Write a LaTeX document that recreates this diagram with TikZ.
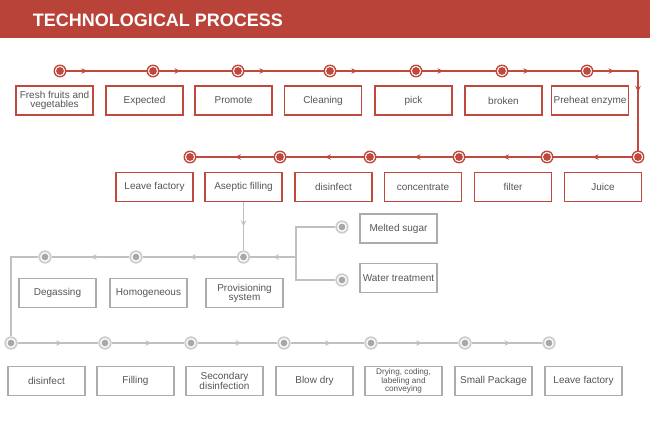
\documentclass[tikz,border=0pt]{standalone}
\usepackage{fontspec}
\setmainfont{Liberation Sans}
\usetikzlibrary{decorations.markings,arrows.meta}
\definecolor{hdred}{RGB}{185,67,56}
\definecolor{lnred}{RGB}{192,73,62}
\definecolor{lngray}{RGB}{192,192,192}
\definecolor{bxgray}{RGB}{172,172,172}
\definecolor{txtgray}{RGB}{85,85,85}
\definecolor{dotgray}{RGB}{168,168,168}
\definecolor{ringgray}{RGB}{205,205,205}
\begin{document}
\begin{tikzpicture}[x=1bp,y=-1bp,
  redbox/.style={draw=lnred,line width=1.6bp,minimum width=77bp,minimum height=29bp,inner sep=1bp,text=txtgray,font=\fontsize{10bp}{9bp}\selectfont,align=center},
  graybox/.style={redbox,draw=bxgray,line width=1.4bp},
  smalltext/.style={font=\fontsize{8.2bp}{8.2bp}\selectfont},
  reddot/.style={circle,draw=lnred,line width=1.4bp,fill=white,minimum size=11.5bp,inner sep=0pt,
    path picture={\fill[lnred] (path picture bounding box.center) circle (3.9bp);}},
  graydot/.style={circle,draw=ringgray,line width=1.8bp,fill=white,minimum size=11.5bp,inner sep=0pt,
    path picture={\fill[dotgray] (path picture bounding box.center) circle (3.4bp);}},
  redline/.style={lnred,line width=1.3bp},
  grayline/.style={lngray,line width=1.3bp},
  arrat/.style={postaction={decorate},decoration={markings,mark=at position #1 with {\arrow{Stealth[length=6bp,width=5.5bp]}}}},
]
\useasboundingbox (0,0) rectangle (650,432);
% header
\fill[hdred] (0,0) rectangle (650,38);
\node[text=white,font=\fontsize{18bp}{18bp}\selectfont\bfseries] (title) at (158,20) {TECHNOLOGICAL PROCESS};

% row 1 boxes
\node[redbox] (b11) at (54.5,100.5) {Fresh fruits and\\vegetables};
\node[redbox] (b12) at (144.5,100.5) {Expected};
\node[redbox] (b13) at (233.5,100.5) {Promote};
\node[redbox] (b14) at (323,100.5) {Cleaning};
\node[redbox] (b15) at (413.5,100.5) {pick};
\node[redbox] (b16) at (503.5,100.5) {broken};
\node[redbox] (b17) at (590,100.5) {Preheat enzyme};
% row 1 dots
\node[reddot] (d11) at (60,71) {};
\node[reddot] (d12) at (153,71) {};
\node[reddot] (d13) at (238,71) {};
\node[reddot] (d14) at (330,71) {};
\node[reddot] (d15) at (416,71) {};
\node[reddot] (d16) at (502,71) {};
\node[reddot] (d17) at (587,71) {};
\coordinate (rc) at (638,71);

% row 2 boxes
\node[redbox] (b21) at (603,187) {Juice};
\node[redbox] (b22) at (513,187) {filter};
\node[redbox] (b23) at (423,187) {concentrate};
\node[redbox] (b24) at (333.5,187) {disinfect};
\node[redbox] (b25) at (243.5,187) {Aseptic filling};
\node[redbox] (b26) at (154.5,187) {Leave factory};
% row 2 dots
\node[reddot] (d21) at (638,157) {};
\node[reddot] (d22) at (547,157) {};
\node[reddot] (d23) at (459,157) {};
\node[reddot] (d24) at (370,157) {};
\node[reddot] (d25) at (280,157) {};
\node[reddot] (d26) at (190,157) {};

% branch boxes
\node[graybox] (ms) at (398.5,228.5) {Melted sugar};
\node[graybox] (wt) at (398.5,278) {Water treatment};
\node[graydot] (dms) at (342,227) {};
\node[graydot] (dwt) at (342,280) {};
\coordinate (jt) at (296,227);
\coordinate (jb) at (296,280);
\coordinate (jm) at (296,257);

% row 3
\node[graybox] (b31) at (244.5,293) {Provisioning\\system};
\node[graybox] (b32) at (148.5,293) {Homogeneous};
\node[graybox] (b33) at (57.5,293) {Degassing};
\node[graydot] (d31) at (243.5,257) {};
\node[graydot] (d32) at (136,257) {};
\node[graydot] (d33) at (45,257) {};
\coordinate (lc) at (11,257);

% row 4
\node[graybox] (b41) at (46.5,381) {disinfect};
\node[graybox] (b42) at (135.5,381) {Filling};
\node[graybox] (b43) at (224.5,381) {Secondary\\disinfection};
\node[graybox] (b44) at (314.5,381) {Blow dry};
\node[graybox,smalltext] (b45) at (403.5,381) {Drying, coding,\\labeling and\\conveying};
\node[graybox] (b46) at (493.5,381) {Small Package};
\node[graybox] (b47) at (583.5,381) {Leave factory};
\node[graydot] (d41) at (11,343) {};
\node[graydot] (d42) at (105,343) {};
\node[graydot] (d43) at (191,343) {};
\node[graydot] (d44) at (284,343) {};
\node[graydot] (d45) at (371,343) {};
\node[graydot] (d46) at (465,343) {};
\node[graydot] (d47) at (549,343) {};

% red connectors row 1
\draw[redline,arrat=21bp] (d11) -- (d12);
\draw[redline,arrat=21bp] (d12) -- (d13);
\draw[redline,arrat=21bp] (d13) -- (d14);
\draw[redline,arrat=21bp] (d14) -- (d15);
\draw[redline,arrat=21bp] (d15) -- (d16);
\draw[redline,arrat=21bp] (d16) -- (d17);
\draw[redline,arrat=21bp] (d17) -- (rc);
\draw[redline,arrat=21bp] (rc) -- (d21);
% red connectors row 2
\draw[redline,arrat=0.5] (d21) -- (d22);
\draw[redline,arrat=0.5] (d22) -- (d23);
\draw[redline,arrat=0.5] (d23) -- (d24);
\draw[redline,arrat=0.5] (d24) -- (d25);
\draw[redline,arrat=0.5] (d25) -- (d26);

% gray connectors
\draw[grayline,arrat=0.5] (b25.south) -- (d31);
\draw[grayline] (dms) -- (jt) -- (jb) -- (dwt);
\draw[grayline,arrat=0.5] (jm) -- (d31);
\draw[grayline,arrat=0.5] (d31) -- (d32);
\draw[grayline,arrat=0.5] (d32) -- (d33);
\draw[grayline] (d33) -- (lc) -- (d41);
\draw[grayline,arrat=0.55] (d41) -- (d42);
\draw[grayline,arrat=0.55] (d42) -- (d43);
\draw[grayline,arrat=0.55] (d43) -- (d44);
\draw[grayline,arrat=0.55] (d44) -- (d45);
\draw[grayline,arrat=0.55] (d45) -- (d46);
\draw[grayline,arrat=0.55] (d46) -- (d47);
\end{tikzpicture}
\end{document}
